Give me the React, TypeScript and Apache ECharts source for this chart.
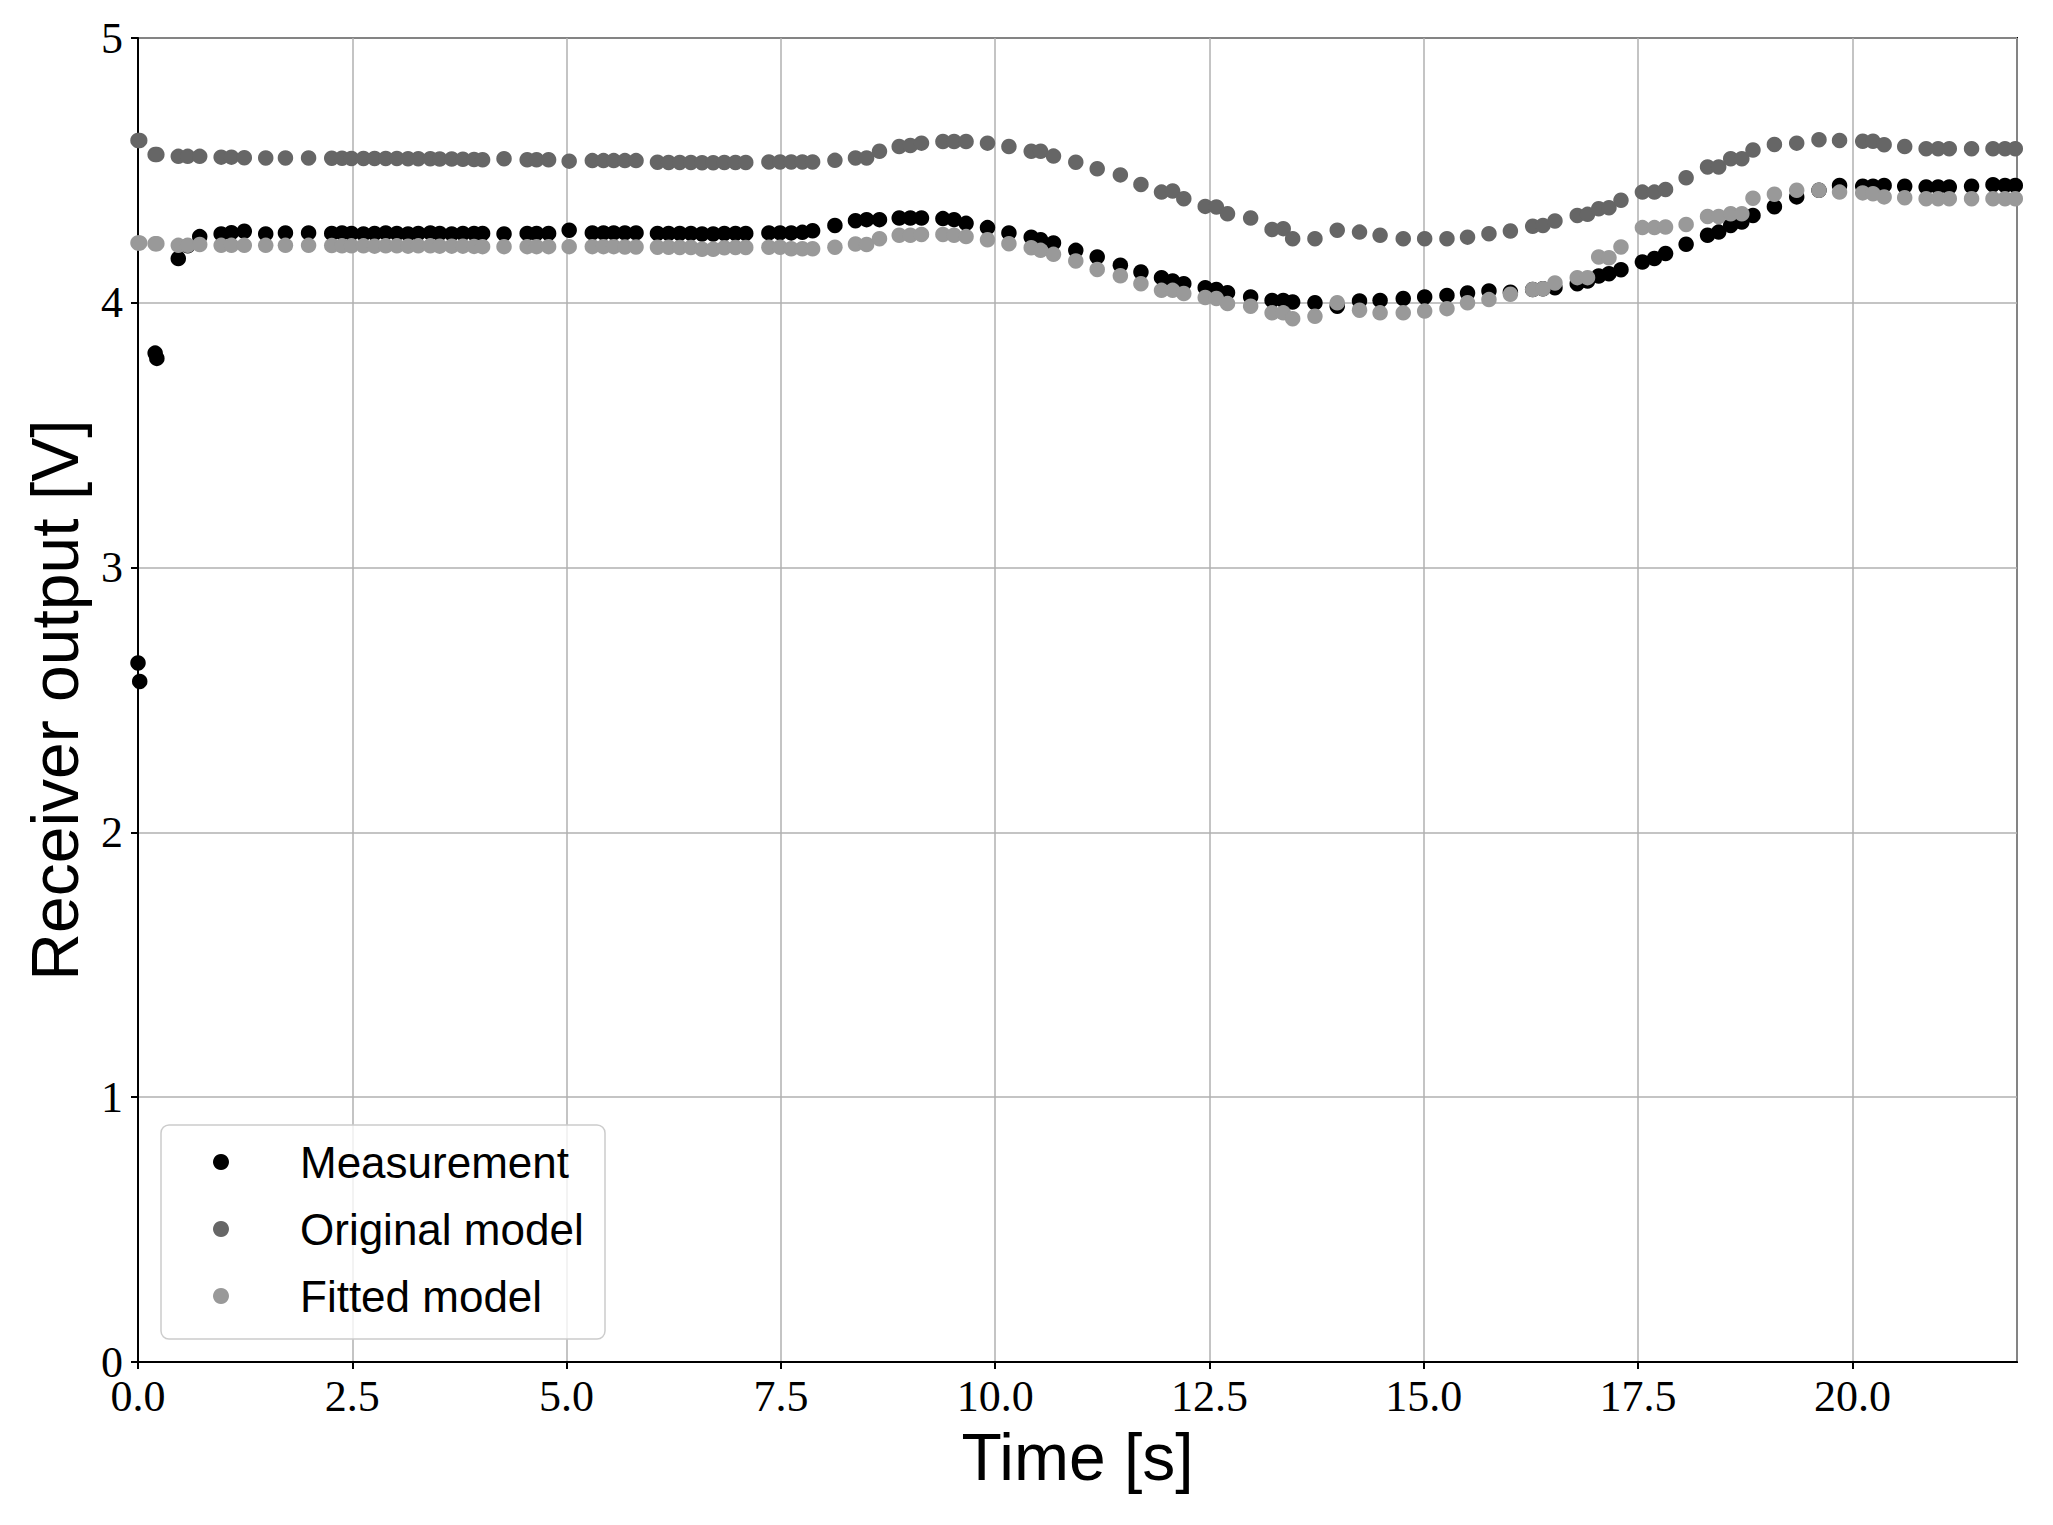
import React, { useEffect, useRef } from "react";
import * as echarts from "echarts";

const timeS = [
  0.0, 0.02, 0.2, 0.22, 0.47, 0.58, 0.72, 0.97, 1.09, 1.24,
  1.49, 1.72, 1.99, 2.26, 2.38, 2.49, 2.63, 2.76, 2.89, 3.02,
  3.15, 3.27, 3.41, 3.52, 3.66, 3.79, 3.92, 4.02, 4.27, 4.54,
  4.65, 4.79, 5.03, 5.3, 5.43, 5.55, 5.68, 5.81, 6.06, 6.19,
  6.32, 6.45, 6.58, 6.71, 6.84, 6.97, 7.09, 7.36, 7.49, 7.62,
  7.75, 7.87, 8.13, 8.37, 8.5, 8.65, 8.88, 9.01, 9.14, 9.39,
  9.52, 9.66, 9.91, 10.16, 10.42, 10.53, 10.68, 10.94, 11.19, 11.46,
  11.7, 11.94, 12.07, 12.2, 12.45, 12.58, 12.71, 12.98, 13.23, 13.36,
  13.47, 13.73, 13.99, 14.25, 14.49, 14.76, 15.01, 15.27, 15.51, 15.76,
  16.01, 16.27, 16.39, 16.53, 16.79, 16.91, 17.04, 17.16, 17.3, 17.55,
  17.69, 17.82, 18.06, 18.31, 18.44, 18.58, 18.71, 18.84, 19.09, 19.35,
  19.61, 19.85, 20.12, 20.24, 20.37, 20.61, 20.86, 21.0, 21.13, 21.39,
  21.64, 21.78, 21.9,
];

const measurement = [
  2.64, 2.57, 3.81, 3.79, 4.167, 4.215, 4.25, 4.26, 4.265, 4.27,
  4.26, 4.264, 4.264, 4.262, 4.264, 4.262, 4.26, 4.262, 4.264, 4.262,
  4.26, 4.262, 4.264, 4.262, 4.26, 4.262, 4.262, 4.262, 4.26, 4.262,
  4.262, 4.262, 4.274, 4.264, 4.264, 4.264, 4.264, 4.264, 4.262, 4.262,
  4.262, 4.262, 4.26, 4.26, 4.262, 4.262, 4.262, 4.264, 4.264, 4.264,
  4.266, 4.272, 4.292, 4.31, 4.314, 4.314, 4.32, 4.32, 4.32, 4.318,
  4.314, 4.3, 4.284, 4.264, 4.248, 4.238, 4.226, 4.198, 4.173, 4.142,
  4.116, 4.095, 4.082, 4.072, 4.057, 4.05, 4.038, 4.022, 4.009, 4.009,
  4.003, 4.0, 3.987, 4.007, 4.009, 4.016, 4.022, 4.028, 4.037, 4.045,
  4.04, 4.05, 4.053, 4.057, 4.072, 4.082, 4.101, 4.11, 4.125, 4.154,
  4.167, 4.186, 4.221, 4.255, 4.267, 4.292, 4.305, 4.33, 4.363, 4.4,
  4.425, 4.443, 4.44, 4.44, 4.443, 4.44, 4.437, 4.437, 4.437, 4.44,
  4.446, 4.443, 4.443,
];

const originalModel = [
  4.613, 4.613, 4.56, 4.56, 4.553, 4.553, 4.553, 4.55, 4.55, 4.548,
  4.547, 4.547, 4.547, 4.546, 4.546, 4.545, 4.545, 4.545, 4.545, 4.545,
  4.544, 4.544, 4.544, 4.543, 4.543, 4.542, 4.541, 4.54, 4.544, 4.54,
  4.54, 4.54, 4.535, 4.537, 4.537, 4.537, 4.537, 4.537, 4.531, 4.53,
  4.53, 4.53, 4.529, 4.529, 4.53, 4.53, 4.53, 4.532, 4.532, 4.532,
  4.532, 4.532, 4.538, 4.547, 4.547, 4.572, 4.59, 4.594, 4.603, 4.609,
  4.609, 4.609, 4.603, 4.59, 4.572, 4.572, 4.554, 4.531, 4.506, 4.483,
  4.447, 4.418, 4.422, 4.393, 4.364, 4.362, 4.336, 4.32, 4.277, 4.28,
  4.242, 4.242, 4.274, 4.267, 4.255, 4.242, 4.242, 4.242, 4.248, 4.261,
  4.271, 4.289, 4.292, 4.309, 4.33, 4.334, 4.355, 4.359, 4.387, 4.418,
  4.418, 4.428, 4.472, 4.513, 4.513, 4.544, 4.544, 4.577, 4.598, 4.603,
  4.616, 4.613, 4.61, 4.61, 4.597, 4.59, 4.582, 4.582, 4.582, 4.582,
  4.582, 4.582, 4.582,
];

const fittedModel = [
  4.226, 4.226, 4.223, 4.223, 4.217, 4.217, 4.22, 4.217, 4.217, 4.217,
  4.217, 4.217, 4.217, 4.216, 4.215, 4.215, 4.215, 4.214, 4.215, 4.215,
  4.214, 4.215, 4.215, 4.214, 4.214, 4.214, 4.213, 4.212, 4.212, 4.212,
  4.212, 4.212, 4.212, 4.212, 4.212, 4.212, 4.211, 4.211, 4.21, 4.21,
  4.209, 4.209, 4.202, 4.202, 4.208, 4.209, 4.209, 4.21, 4.21, 4.204,
  4.204, 4.204, 4.21, 4.222, 4.22, 4.242, 4.255, 4.255, 4.258, 4.258,
  4.255, 4.25, 4.238, 4.223, 4.208, 4.198, 4.183, 4.158, 4.126, 4.102,
  4.072, 4.047, 4.047, 4.035, 4.02, 4.016, 3.997, 3.987, 3.962, 3.962,
  3.94, 3.949, 4.0, 3.972, 3.962, 3.962, 3.969, 3.978, 4.0, 4.012,
  4.032, 4.05, 4.053, 4.075, 4.095, 4.095, 4.173, 4.17, 4.211, 4.284,
  4.284, 4.286, 4.296, 4.326, 4.326, 4.336, 4.336, 4.395, 4.41, 4.425,
  4.425, 4.418, 4.415, 4.412, 4.4, 4.397, 4.393, 4.393, 4.393, 4.393,
  4.393, 4.393, 4.393,
];

const seriesNames = ["Measurement", "Original model", "Fitted model"];
const seriesColors = ["#000000", "#666666", "#999999"];
const seriesValues = [measurement, originalModel, fittedModel];

const xMin = 0;
const xMax = 21.92;
const xStep = 2.5;
const yMin = 0;
const yMax = 5;
const yStep = 1;

export default function App() {
  const ref = useRef<HTMLDivElement>(null);

  useEffect(() => {
    if (!ref.current) return;
    const chart = echarts.init(ref.current, null, { renderer: "svg" });
    const serif = "'Liberation Serif', 'Times New Roman', serif";
    const sans = "'Liberation Sans', Arial, sans-serif";

    chart.setOption({
      animation: false,
      backgroundColor: "#ffffff",
      grid: {
        left: 138,
        right: 36,
        top: 38,
        bottom: 163,
        show: true,
        borderColor: "#000000",
        borderWidth: 2,
        backgroundColor: "transparent",
      },
      xAxis: {
        type: "value",
        min: xMin,
        max: xMax,
        interval: xStep,
        name: "Time [s]",
        nameLocation: "middle",
        nameGap: 62,
        nameTextStyle: { fontFamily: sans, fontSize: 66, color: "#000" },
        axisLine: { show: true, onZero: false, lineStyle: { color: "#000", width: 2 } },
        axisTick: { show: true, inside: false, length: 7, lineStyle: { color: "#000", width: 2 } },
        axisLabel: {
          margin: 18,
          fontFamily: serif,
          fontSize: 44,
          lineHeight: 32,
          color: "#000",
          showMaxLabel: false,
          formatter: (v: number) =>
            Math.abs(v / xStep - Math.round(v / xStep)) < 1e-6 ? v.toFixed(1) : "",
        },
        splitLine: { show: true, lineStyle: { color: "#b0b0b0", width: 1.5 } },
      },
      yAxis: {
        type: "value",
        min: yMin,
        max: yMax,
        interval: yStep,
        name: "Receiver output [V]",
        nameLocation: "middle",
        nameGap: 50,
        nameRotate: 90,
        nameTextStyle: { fontFamily: sans, fontSize: 66, color: "#000" },
        axisLine: { show: true, onZero: false, lineStyle: { color: "#000", width: 2 } },
        axisTick: { show: true, inside: false, length: 7, lineStyle: { color: "#000", width: 2 } },
        axisLabel: {
          margin: 15,
          fontFamily: serif,
          fontSize: 44,
          lineHeight: 32,
          color: "#000",
          formatter: (v: number) => String(v),
        },
        splitLine: { show: true, lineStyle: { color: "#b0b0b0", width: 1.5 } },
      },
      graphic: [
        {
          type: "rect",
          z: 3,
          shape: { x: 161, y: 1125, width: 444, height: 214, r: 8 },
          style: { fill: "rgba(255,255,255,0.8)", stroke: "#cccccc", lineWidth: 1.5 },
        },
      ],
      legend: {
        orient: "vertical",
        left: 213,
        top: 1137,
        itemWidth: 148,
        itemHeight: 16,
        itemGap: 17,
        padding: 0,
        icon: "circle",
        selectedMode: false,
        z: 5,
        textStyle: { fontFamily: sans, fontSize: 44, color: "#000", lineHeight: 50 },
        data: seriesNames,
      },
      series: seriesNames.map((name, k) => ({
        name,
        type: "scatter",
        symbol: "circle",
        symbolSize: 15.5,
        itemStyle: { color: seriesColors[k], opacity: 1 },
        emphasis: { disabled: true },
        data: timeS.map((t, i) => [t, seriesValues[k][i]]),
      })),
    });

    return () => chart.dispose();
  }, []);

  return (
    <div
      ref={ref}
      style={{
        position: "fixed",
        left: 0,
        top: 0,
        width: 2053,
        height: 1525,
        background: "#ffffff",
      }}
    />
  );
}
